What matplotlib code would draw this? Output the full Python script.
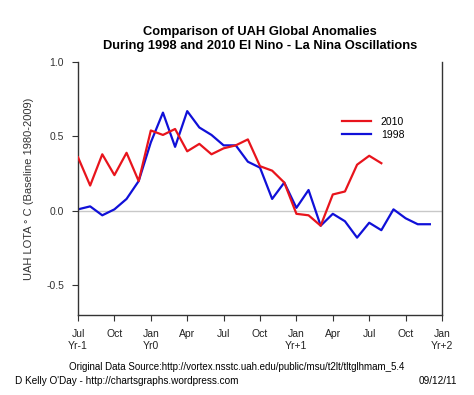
import numpy as np
import matplotlib
matplotlib.use('Agg')
import matplotlib.pyplot as plt

plt.rcParams['font.family'] = ['Liberation Sans', 'DejaVu Sans']

# months counted from Jul of Yr-1
months_2010 = list(range(26))
anom_2010 = [0.36, 0.17, 0.38, 0.24, 0.39, 0.20, 0.54, 0.51, 0.55, 0.40, 0.45, 0.38,
             0.42, 0.44, 0.48, 0.30, 0.27, 0.19, -0.02, -0.03, -0.10, 0.11, 0.13,
             0.31, 0.37, 0.32]
months_1998 = list(range(30))
anom_1998 = [0.01, 0.03, -0.03, 0.01, 0.08, 0.20, 0.46, 0.66, 0.43, 0.67, 0.56, 0.51,
             0.44, 0.44, 0.33, 0.29, 0.08, 0.19, 0.02, 0.14, -0.10, -0.02, -0.07,
             -0.18, -0.08, -0.13, 0.01, -0.05, -0.09, -0.09]

tick_pos = list(range(0, 31, 3))
tick_labels = ['Jul\nYr-1', 'Oct', 'Jan\nYr0', 'Apr', 'Jul', 'Oct', 'Jan\nYr+1',
               'Apr', 'Jul', 'Oct', 'Jan\nYr+2']

fig = plt.figure(figsize=(4.74, 3.95), dpi=100)
ax = fig.add_axes([0.1646, 0.2025, 0.7679, 0.6405])

ax.axhline(0, color='#c8c8c8', lw=1, zorder=1)
ax.plot(months_2010, anom_2010, color='#e8141c', lw=1.6, label='2010', zorder=3)
ax.plot(months_1998, anom_1998, color='#1010d8', lw=1.6, label='1998', zorder=2)

ax.set_xlim(0, 30)
ax.set_ylim(-0.7, 1.0)
ax.set_xticks(tick_pos)
ax.set_xticklabels(tick_labels, fontsize=7.5, color='#222222')
ax.set_yticks([1.0, 0.5, 0, -0.5])
ax.set_yticklabels(['1.0', '0.5', '0.0', '-0.5'], fontsize=7.5, color='#333333')
ax.tick_params(direction='out', length=4, width=0.8, color='#333333', pad=6)
ax.spines['top'].set_visible(False)
for s in ['left', 'right', 'bottom']:
    ax.spines[s].set_color('#333333')
    ax.spines[s].set_linewidth(1)

ax.set_ylabel('UAH LOTA \u00b0 C (Baseline 1980-2009)', fontsize=8, labelpad=9,
              color='#333333')

ax.legend(loc='upper left', bbox_to_anchor=(0.7, 0.82), frameon=False, fontsize=7.5,
          handlelength=2.8, labelspacing=0.3, handletextpad=0.9)

fig.text(0.549, 0.902, 'Comparison of UAH Global Anomalies\nDuring 1998 and 2010 El Nino - La Nina Oscillations',
         ha='center', va='center', fontsize=9.3, fontweight='bold', linespacing=1.25)

fig.text(0.5, 0.071, 'Original Data Source:http://vortex.nsstc.uah.edu/public/msu/t2lt/tltglhmam_5.4',
         ha='center', va='center', fontsize=7)
fig.text(0.032, 0.035, "D Kelly O'Day - http://chartsgraphs.wordpress.com",
         ha='left', va='center', fontsize=7.2)
fig.text(0.964, 0.035, '09/12/11', ha='right', va='center', fontsize=7.2)

fig.savefig('out.png', dpi=100)
